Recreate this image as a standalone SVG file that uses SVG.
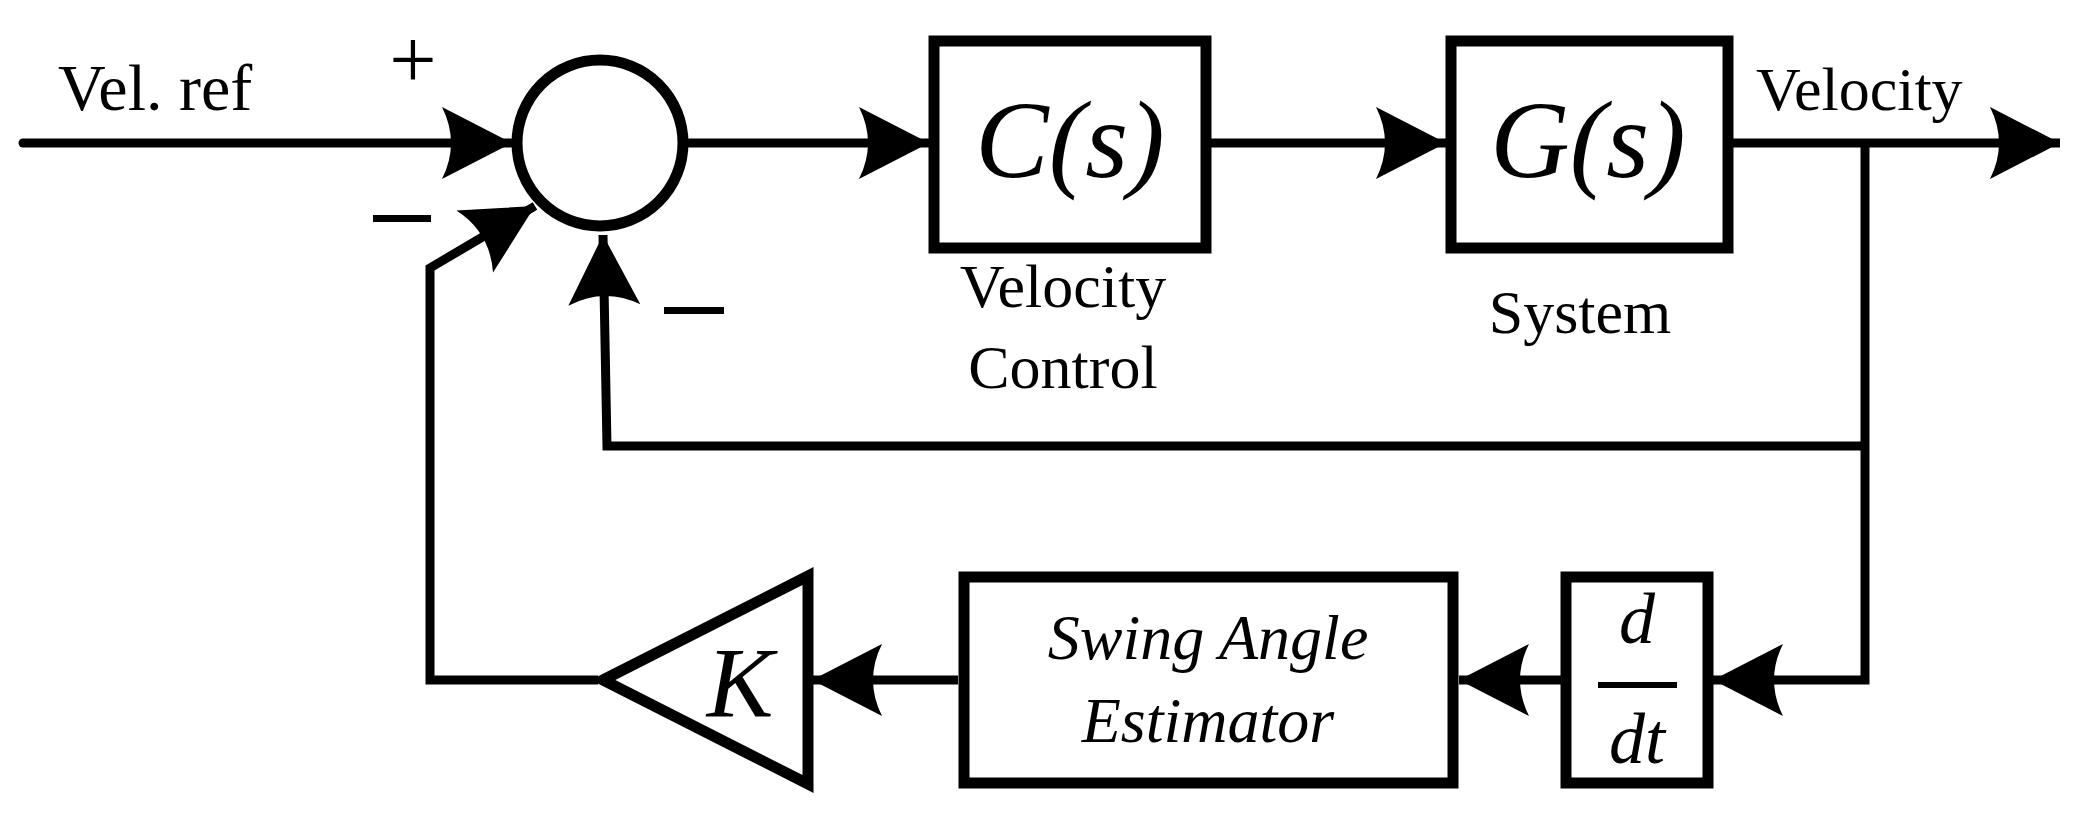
<svg xmlns="http://www.w3.org/2000/svg" width="2073" height="816" viewBox="0 0 2073 816">
<style>
.ln{fill:none;stroke:#000;stroke-width:9;stroke-linejoin:miter}
.bx{fill:#fff;stroke:#000;stroke-width:11}
.t{font-family:"Liberation Serif","Times New Roman",serif;fill:#000}
.i{font-style:italic}
</style>
<defs>
<marker id="ah" markerUnits="userSpaceOnUse" markerWidth="90" markerHeight="90" refX="70" refY="36" orient="auto" overflow="visible">
<path d="M70,36 L0,0 Q18,36 0,72 Z" fill="#000"/>
</marker>
</defs>
<g id="connectors">
<line class="ln" x1="23" y1="143" x2="512" y2="143" marker-end="url(#ah)" stroke-linecap="round"/>
<line class="ln" x1="684" y1="143" x2="929" y2="143" marker-end="url(#ah)"/>
<line class="ln" x1="1211" y1="143" x2="1446" y2="143" marker-end="url(#ah)"/>
<line class="ln" x1="1733" y1="143" x2="2060" y2="143" marker-end="url(#ah)"/>
<polyline class="ln" points="1865,143 1865,680 1713,680" marker-end="url(#ah)"/>
<line class="ln" x1="1561" y1="680" x2="1459" y2="680" marker-end="url(#ah)"/>
<line class="ln" x1="958" y1="680" x2="812" y2="680" marker-end="url(#ah)"/>
<polyline class="ln" points="598,680 430,680 430,268 535,206" marker-end="url(#ah)"/>
<polyline class="ln" points="1865,446 607,446 603,235" marker-end="url(#ah)"/>
</g>
<g id="sum">
<circle cx="600" cy="143" r="83" fill="#fff" stroke="#000" stroke-width="11"/>
<text class="t" x="413" y="88" font-size="84" text-anchor="middle">+</text>
<rect x="373" y="215" width="58" height="7"/>
<rect x="664" y="307" width="60" height="7"/>
</g>
<g id="vref"><text class="t" x="58" y="110" font-size="66">Vel. ref</text></g>
<g id="cs">
<rect class="bx" x="934" y="41" width="272" height="207"/>
<text class="t i" x="1070" y="177" font-size="110" text-anchor="middle">C(s)</text>
<text class="t" x="1063" y="307" font-size="62" text-anchor="middle">Velocity</text>
<text class="t" x="1063" y="388" font-size="62" text-anchor="middle">Control</text>
</g>
<g id="gs">
<rect class="bx" x="1451" y="41" width="277" height="207"/>
<text class="t i" x="1588" y="177" font-size="110" text-anchor="middle">G(s)</text>
<text class="t" x="1580" y="333" font-size="62" text-anchor="middle">System</text>
</g>
<g id="vel"><text class="t" x="1756" y="110" font-size="62">Velocity</text></g>
<g id="ddt">
<rect class="bx" x="1566" y="577" width="142" height="206"/>
<text class="t i" x="1637" y="643" font-size="72" text-anchor="middle">d</text>
<line x1="1598" y1="685" x2="1677" y2="685" stroke="#000" stroke-width="6"/>
<text class="t i" x="1637" y="763" font-size="72" text-anchor="middle">dt</text>
</g>
<g id="est">
<rect class="bx" x="964" y="577" width="489" height="206"/>
<text class="t i" x="1208" y="659" font-size="64" text-anchor="middle">Swing Angle</text>
<text class="t i" x="1208" y="742" font-size="64" text-anchor="middle">Estimator</text>
</g>
<g id="gain">
<polygon points="603,680 808,576 808,784" fill="#fff" stroke="#000" stroke-width="11" stroke-linejoin="miter"/>
<text class="t i" x="740" y="716" font-size="100" text-anchor="middle">K</text>
</g>
</svg>
